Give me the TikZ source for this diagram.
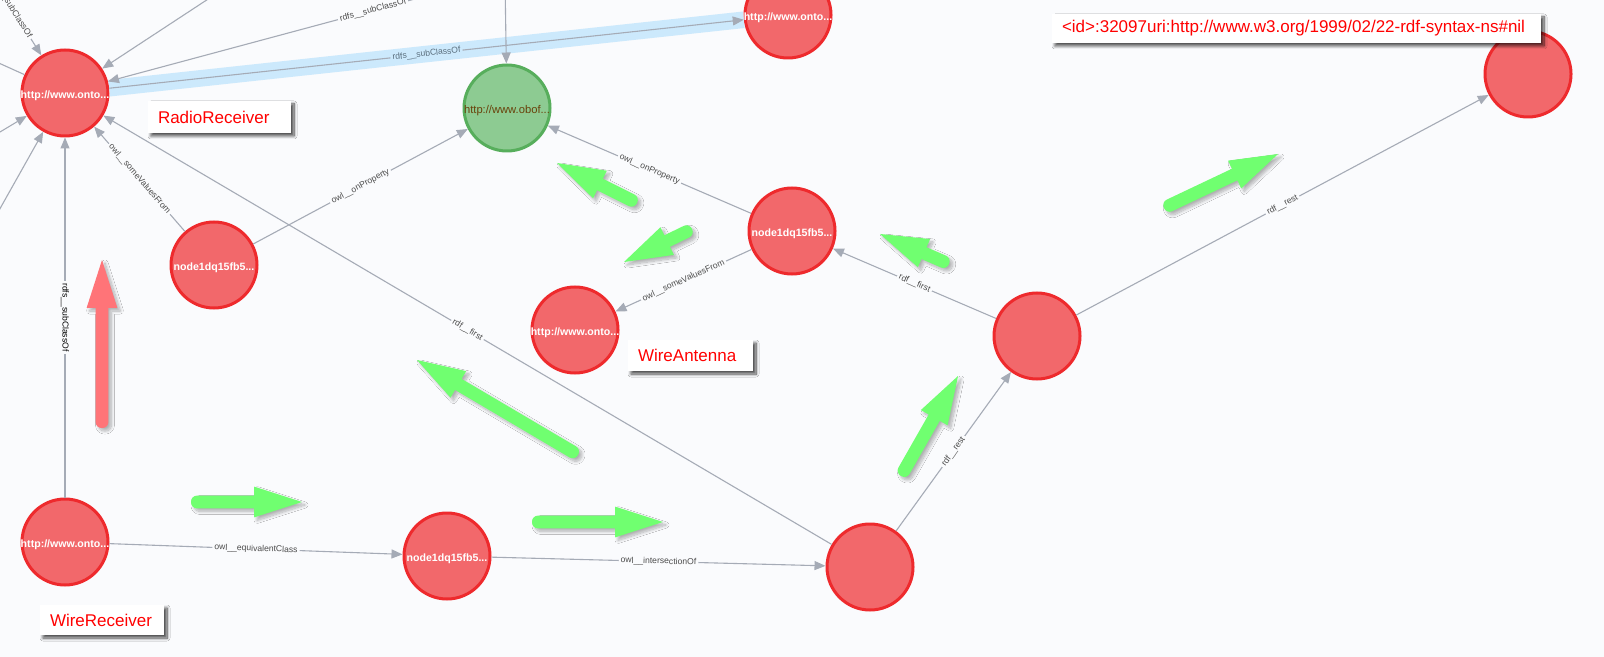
\documentclass[tikz,border=0pt]{standalone}
\usepackage{fontspec}
\setmainfont{Liberation Sans}
\usetikzlibrary{arrows.meta,calc,shadows.blur}

\definecolor{bgc}{HTML}{FAFBFD}
\definecolor{linkc}{HTML}{A5ABB6}
\definecolor{redfill}{HTML}{F2686B}
\definecolor{redline}{HTML}{EE2A2D}
\definecolor{greenfill}{HTML}{8DCB92}
\definecolor{greenline}{HTML}{57AE5C}
\definecolor{hintgreen}{HTML}{70FF70}
\definecolor{hintred}{HTML}{FF7478}
\definecolor{bluehl}{HTML}{CCE9FC}

\tikzset{
    rednode/.style={circle,draw=redline,fill=redfill,line width=1.5pt,minimum size=43pt,inner sep=0pt,
        text=white,font=\bfseries\fontsize{5.3}{6}\selectfont},
    greennode/.style={rednode,draw=greenline,fill=greenfill,text={rgb,255:red,105;green,65;blue,10},
        font=\fontsize{5.6}{6}\selectfont},
    link/.style={draw=linkc,line width=.55pt,-{Triangle[length=5.5pt,width=4.5pt]}},
    lab/.style={font=\fontsize{4.3}{5}\selectfont,text=black!70,fill=bgc,inner sep=1pt,sloped,midway},
    tagbox/.style={fill=white,text=red,inner sep=0pt,align=left,font=\fontsize{8.5}{10}\selectfont,
        blur shadow={shadow xshift=1.5pt,shadow yshift=-1.5pt,shadow blur radius=1.5pt,shadow blur steps=12,shadow opacity=70}},
    hint/.style={fill=#1,blur shadow={shadow xshift=1.5pt,shadow yshift=-1.5pt,shadow blur radius=1.5pt,shadow blur steps=12,shadow opacity=30}}
}

\newcommand{\nlab}[1]{\makebox[0pt]{\raisebox{-2.6pt}[0pt][0pt]{#1}}}
\newcommand{\hintarrow}[3]{
    \coordinate (ht) at (#2);
    \coordinate (hh) at (#3);
    \coordinate (hb) at ($(hh)!24pt!(ht)$);
    \path[hint=#1] ($(hb)!3.2pt!-90:(ht)$) [rounded corners=3pt] -- ($(ht)!3.2pt!90:(hh)$) -- ($(ht)!3.2pt!-90:(hh)$)
        [sharp corners] -- ($(hb)!3.2pt!90:(ht)$) -- ($(hb)!7.7pt!90:(ht)$) -- (hh) -- ($(hb)!7.7pt!-90:(ht)$) -- cycle;
}

\begin{document}
\begin{tikzpicture}[x=.5pt,y=-.5pt]
    \path[use as bounding box,fill=bgc] (0,0) rectangle (1604,657);
    \clip (0,0) rectangle (1604,657);

    \node[rednode] (s0) at (65,93) {\nlab{http://www.onto...}};
    \node[rednode] (s1) at (788,15) {\nlab{http://www.onto...}};
    \node[greennode] (g0) at (507,108) {\nlab{http://www.obof...}};
    \node[rednode] (b0) at (214,265) {\nlab{node1dq15fb5...}};
    \node[rednode] (b1) at (792,231) {\nlab{node1dq15fb5...}};
    \node[rednode] (s2) at (575,330) {\nlab{http://www.onto...}};
    \node[rednode] (e0) at (1037,336) {};
    \node[rednode] (e1) at (1528,74) {};
    \node[rednode] (s3) at (65,542) {\nlab{http://www.onto...}};
    \node[rednode] (b2) at (447,556) {\nlab{node1dq15fb5...}};
    \node[rednode] (e2) at (870,567) {};

    \coordinate (f0) at (-18,-39);
    \coordinate (f1) at (260,-35);
    \coordinate (f2) at (638,-61);
    \coordinate (f3) at (-30,50);
    \coordinate (f4) at (-30,150);
    \coordinate (f5) at (-30,262);
    \coordinate (f6) at (505,-20);

    \draw[bluehl,line width=8.3pt] (s0)--(s1);
    \draw[link] (s0)--(s1) node[lab,fill=bluehl,text={rgb,255:red,90;green,110;blue,125}] {rdfs\_\_subClassOf};

    \draw[link] (f0)--(s0) node[lab] {rdfs\_\_subClassOf};
    \draw[link] (f1)--(s0);
    \draw[link] (f2)--(s0) node[lab] {rdfs\_\_subClassOf};
    \draw[draw=linkc,line width=.55pt] (s0)--(f3);
    \draw[link] (f4)--(s0);
    \draw[link] (f5)--(s0);
    \draw[link] (f6)--(g0);

    \draw[link] (s3)--(s0) node[midway,rotate=-90,fill=bgc,inner sep=1pt,font=\fontsize{4.3}{5}\selectfont] {rdfs\_\_subClassOf};
    \draw[link] (b0)--(s0) node[lab] {owl\_\_someValuesFrom};
    \draw[link] (b0)--(g0) node[lab] {owl\_\_onProperty};
    \draw[link] (e2)--(s0) node[lab] {rdf\_\_first};
    \draw[link] (b1)--(g0) node[lab] {owl\_\_onProperty};
    \draw[link] (b1)--(s2) node[lab] {owl\_\_someValuesFrom};
    \draw[link] (e0)--(b1) node[lab] {rdf\_\_first};
    \draw[link] (e0)--(e1) node[lab] {rdf\_\_rest};
    \draw[link] (e2)--(e0) node[lab] {rdf\_\_rest};
    \draw[link] (s3)--(b2) node[lab] {owl\_\_equivalentClass};
    \draw[link] (b2)--(e2) node[lab] {owl\_\_intersectionOf};

    \hintarrow{hintred}{102,428}{102,260}
    \hintarrow{hintgreen}{191,502}{302,502}
    \hintarrow{hintgreen}{532,522}{663,522}
    \hintarrow{hintgreen}{578,455}{417,360}
    \hintarrow{hintgreen}{901,476}{958,376}
    \hintarrow{hintgreen}{637,203}{557,163}
    \hintarrow{hintgreen}{692,229}{624,262}
    \hintarrow{hintgreen}{949,264}{880,234}
    \hintarrow{hintgreen}{1164,208}{1278,154}

    \node[tagbox,minimum width=71.5pt,minimum height=16pt,text width=61.5pt] (t0) at (219.5,117) {RadioReceiver};
    \node[tagbox,minimum width=62.5pt,minimum height=15.5pt,text width=52.5pt] (t1) at (690.5,355.5) {WireAntenna};
    \node[tagbox,minimum width=62pt,minimum height=15pt,text width=52pt] (t2) at (102,620) {WireReceiver};
    \node[tagbox,minimum width=244.5pt,minimum height=14.5pt,text width=234.5pt] (t3) at (1296.5,28.5) {<id>:32097uri:http://www.w3.org/1999/02/22-rdf-syntax-ns\#nil};
\end{tikzpicture}
\end{document}
